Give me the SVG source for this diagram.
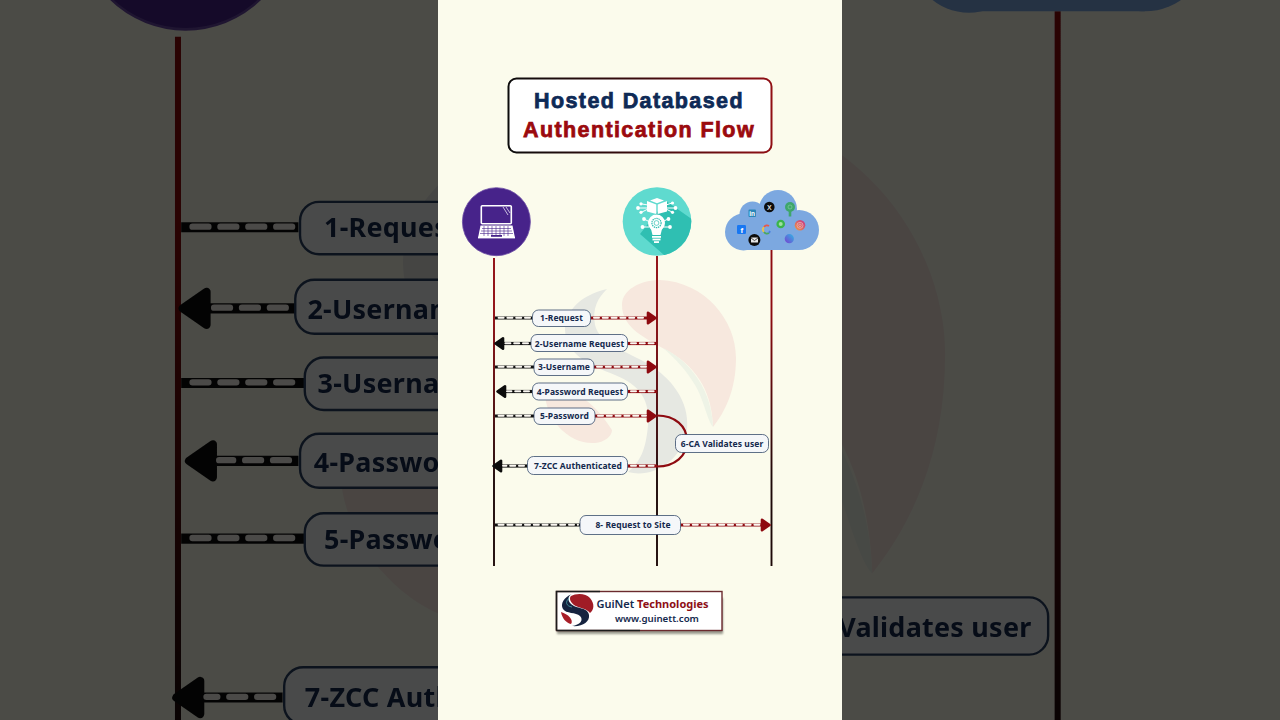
<svg xmlns="http://www.w3.org/2000/svg" width="1280" height="720" viewBox="0 0 1280 720">
<style>
.lb{fill:#f5f7f9;stroke:#2b4263;stroke-width:.75}
.lt{font:700 8.5px "Noto Sans","Liberation Sans",sans-serif;fill:#14294d;text-anchor:middle;letter-spacing:.08px}
.life{fill:none;stroke:url(#lifeGrad);stroke-width:1.9}
.rk{fill:none;stroke:#111;stroke-width:3.2}
.rr{fill:none;stroke:#8e0a10;stroke-width:3.2}
.wd{fill:none;stroke:#fbf8f2;stroke-width:2;stroke-linecap:round;stroke-dasharray:5 3.8}
.tk{marker-end:url(#hk)}
.tr{marker-end:url(#hr)}
.tt{font:700 21.5px "Liberation Sans",Arial,sans-serif;text-anchor:middle;stroke-width:.75;letter-spacing:1.4px}
.w{fill:#fff}
.ws{fill:none;stroke:#fff}
</style>
<defs>
<filter id="soft" x="-5%" y="-5%" width="110%" height="110%"><feGaussianBlur stdDeviation=".5"/></filter>
<filter id="shadow" x="-5%" y="-20%" width="110%" height="150%"><feGaussianBlur stdDeviation="1.3"/></filter>
<linearGradient id="lifeGrad" gradientUnits="userSpaceOnUse" x1="0" y1="258" x2="0" y2="480">
<stop offset="0" stop-color="#8e0a10"/><stop offset=".25" stop-color="#8e0a10"/><stop offset="1" stop-color="#1c0808"/>
</linearGradient>
<linearGradient id="titleGrad" x1="0" y1="0" x2="1" y2="0">
<stop offset="0" stop-color="#0c0c0c"/><stop offset=".5" stop-color="#3a0a0c"/><stop offset="1" stop-color="#900f14"/>
</linearGradient>
<linearGradient id="ballGrad" x1="0" y1="1" x2="1" y2="0">
<stop offset="0" stop-color="#7a3fd0"/><stop offset="1" stop-color="#2fb6e6"/>
</linearGradient>
<linearGradient id="igGrad" x1="0" y1="1" x2="1" y2="0">
<stop offset="0" stop-color="#f09a3e"/><stop offset="1" stop-color="#c2308f"/>
</linearGradient>
<marker id="hk" markerUnits="userSpaceOnUse" markerWidth="16" markerHeight="18" refX="1.5" refY="9" orient="auto" overflow="visible">
<path d="M1.5 3.8 L9 9 L1.5 14.2Z" fill="#0c0c0c" stroke="#0c0c0c" stroke-width="2.6" stroke-linejoin="round"/>
</marker>
<marker id="hr" markerUnits="userSpaceOnUse" markerWidth="16" markerHeight="18" refX="1.5" refY="9" orient="auto" overflow="visible">
<path d="M1.5 3.8 L9 9 L1.5 14.2Z" fill="#8e0a10" stroke="#8e0a10" stroke-width="2.6" stroke-linejoin="round"/>
</marker>
<clipPath id="sides"><rect x="0" y="0" width="438" height="720"/><rect x="842" y="0" width="438" height="720"/></clipPath>
<clipPath id="tealClip"><circle cx="657" cy="221.5" r="34.3"/></clipPath>
<g id="scene">
  <g id="watermark">
    <path d="M622 305 C622 290 640 280 660 280 C705 282 736 320 736 358 C736 390 725 412 713 427 C712 395 700 370 670 352 C645 338 622 328 622 305Z" fill="#f7e8de"/>
    <path d="M663 348 C692 362 712 392 713 427 C707 420 704 400 695 385 C686 370 675 358 663 348Z" fill="#eef3e6"/>
    <path d="M607 289 C580 295 565 312 565 330 C566 355 590 365 615 375 C640 385 650 400 648 425 C646 450 640 462 628 472 C650 478 680 465 687 430 C690 400 670 378 650 365 C625 350 600 345 595 325 C592 308 598 298 607 289Z" fill="#e6e8e2"/>
    <path d="M612 430 C600 412 590 400 570 391 C560 386 550 385 545 392 C545 420 570 445 595 443 C605 442 612 436 612 430Z" fill="#f7e8de"/>
  </g>
  <g id="lifelines">
    <path class="life" d="M494 258V566"/>
    <path class="life" d="M657 256V566"/>
    <path class="life" d="M771.5 250V566"/>
  </g>
  <g id="connectors">
    <path d="M657 415.5C675 415.5 687 426 687 441C687 456 675 466.5 657 466.5" fill="none" stroke="#8e0a10" stroke-width="2.2"/>
    <path class="rk" d="M495 318H532"/><path class="wd" d="M498.6 317.8H531"/>
    <path class="rr tr" d="M591 318H648"/><path class="wd" d="M594 317.8H646"/>
    <path class="rk tk" d="M531 343.5H503"/><path class="wd" d="M528 343.3H505"/>
    <path class="rr" d="M628 343.5H657"/><path class="wd" d="M631 343.3H655"/>
    <path class="rk" d="M495 367H534"/><path class="wd" d="M498.6 366.8H532"/>
    <path class="rr tr" d="M594 367H648"/><path class="wd" d="M597 366.8H646"/>
    <path class="rk tk" d="M532 391.5H505"/><path class="wd" d="M529 391.3H507"/>
    <path class="rr" d="M628 391.5H657"/><path class="wd" d="M631 391.3H655"/>
    <path class="rk" d="M495 416H534"/><path class="wd" d="M498.6 415.8H532"/>
    <path class="rr tr" d="M595 416H648"/><path class="wd" d="M598 415.8H646"/>
    <path class="rk tk" d="M527 466H501"/><path class="wd" d="M524 465.8H503"/>
    <path class="rr" d="M628 466H657"/><path class="wd" d="M631 465.8H655"/>
    <path class="rk" d="M495 525H580"/><path class="wd" d="M498.6 524.8H578"/>
    <path class="rr tr" d="M681 525H762"/><path class="wd" d="M684 524.8H760"/>
  </g>
  <g id="label-1"><rect class="lb" x="532.5" y="310" width="58" height="16.5" rx="6"/><text class="lt" x="561.5" y="321.2">1-Request</text></g>
  <g id="label-2"><rect class="lb" x="531" y="334.5" width="96.5" height="17" rx="6"/><text class="lt" x="579.5" y="346.8">2-Username Request</text></g>
  <g id="label-3"><rect class="lb" x="534" y="359" width="60" height="16.5" rx="6"/><text class="lt" x="564" y="370.2">3-Username</text></g>
  <g id="label-4"><rect class="lb" x="532.5" y="383" width="95" height="17" rx="6"/><text class="lt" x="580" y="395">4-Password Request</text></g>
  <g id="label-5"><rect class="lb" x="534" y="408" width="61" height="16.5" rx="6"/><text class="lt" x="564.5" y="419.3">5-Password</text></g>
  <g id="label-6"><rect class="lb" x="675.5" y="434.5" width="93" height="18" rx="6"/><text class="lt" x="722" y="447">6-CA Validates user</text></g>
  <g id="label-7"><rect class="lb" x="527.5" y="456.5" width="100" height="18" rx="6"/><text class="lt" x="578" y="469">7-ZCC Authenticated</text></g>
  <g id="label-8"><rect class="lb" x="580" y="515.5" width="100.5" height="19" rx="6"/><text class="lt" x="633" y="528.3">8- Request to Site</text></g>
  <g id="node-client">
    <circle cx="496.4" cy="221.7" r="34" fill="#47238a" stroke="#6a4aa3" stroke-width=".8"/>
    <rect x="481.3" y="205.8" width="30" height="18" rx="1" fill="none" stroke="#fff" stroke-width="1.6"/>
    <path d="M503 207L508 215M506 207L510 213" stroke="#fff" stroke-width=".7"/>
    <path class="w" d="M480.5 225.5H512.5L515 238H478Z"/>
    <path d="M482 228.5H511M481 231H512M480 233.5H513M484 226V236M488 226V236M492 226V236M496 226V236M500 226V236M504 226V236M508 226V236" stroke="#47238a" stroke-width=".6"/>
    <rect x="491" y="235" width="11" height="3" fill="#47238a"/>
    <rect x="478" y="236.8" width="37" height="1.6" class="w"/>
  </g>
  <g id="node-server">
    <circle cx="657" cy="221.5" r="34.3" fill="#5fdacf"/>
    <path clip-path="url(#tealClip)" d="M666 201L700 225V262H672L640 234Z" fill="#2fbfb2"/>
    <path class="w" d="M647 201L656.3 204.5V214L647 211.5ZM657.7 204.5L667 201V211.5L657.7 214ZM650 200.5L657 203.2L664 200.5L657 198Z"/>
    <path class="ws" stroke-width="1" d="M638 208H648M642 204L648 205M642 212L648 209M666 208H675M666 205L672 203M666 209L672 212M644 219L650 222M643 227H649M668 219L662 222M669 227H663"/>
    <g class="w"><circle cx="638" cy="208" r="1.9"/><circle cx="641" cy="203.8" r="1.6"/><circle cx="641" cy="212.3" r="1.6"/><circle cx="675.5" cy="208" r="1.9"/><circle cx="672.5" cy="203" r="1.6"/><circle cx="672.5" cy="212.3" r="1.6"/><circle cx="644" cy="219" r="1.9"/><circle cx="642.5" cy="227" r="1.9"/><circle cx="668.5" cy="219" r="1.9"/><circle cx="670" cy="227" r="1.9"/></g>
    <circle cx="656.5" cy="223" r="8.5" class="w"/>
    <path class="w" d="M651 229H662L660.5 235H652.5Z"/>
    <rect x="652" y="236" width="9" height="1.8" class="w"/><rect x="652.5" y="238.6" width="8" height="1.8" class="w"/><rect x="654" y="241.2" width="5" height="1.8" class="w"/>
    <circle cx="656.5" cy="223" r="4.6" fill="none" stroke="#2fbfb2" stroke-width="1.2" stroke-dasharray="1.4 .7"/>
    <circle cx="656.5" cy="223" r="2.4" fill="none" stroke="#2fbfb2" stroke-width=".7"/>
  </g>
  <g id="node-cloud">
    <g fill="#7ca8e0">
      <circle cx="743.5" cy="232" r="18.5"/><circle cx="752.5" cy="214.5" r="13"/><circle cx="778" cy="209" r="19"/><circle cx="799" cy="230" r="20"/>
      <rect x="745" y="212" width="54" height="38"/>
    </g>
    <rect x="748.5" y="209.5" width="7.5" height="7.5" rx="1" fill="#2a86b8"/>
    <text x="752.2" y="215.6" font-family="Liberation Sans,sans-serif" font-weight="700" font-size="6.5" fill="#fff" text-anchor="middle">in</text>
    <circle cx="769.3" cy="207" r="5.3" fill="#0d0d0d"/>
    <text x="769.3" y="209.6" font-family="Liberation Sans,sans-serif" font-weight="700" font-size="7" fill="#ddd" text-anchor="middle">X</text>
    <circle cx="790" cy="207" r="5" fill="#3fa66b"/><path d="M790 210V216.5" stroke="#3fa66b" stroke-width="2.6"/>
    <circle cx="790" cy="207" r="2" fill="none" stroke="#8fd4a8" stroke-width=".6"/>
    <rect x="737" y="225" width="9" height="9" rx="1.3" fill="#1877f2"/>
    <text x="741.8" y="232.8" font-family="Liberation Sans,sans-serif" font-weight="700" font-size="8" fill="#fff" text-anchor="middle">f</text>
    <g fill="none" stroke-width="1.8">
      <path d="M769 226A3.6 3.6 0 0 0 764 227" stroke="#e8574a"/><path d="M764 227A3.6 3.6 0 0 0 764 232" stroke="#e9c34a"/><path d="M764 232A3.6 3.6 0 0 0 769 233" stroke="#4aa860"/><path d="M769 233L770 231" stroke="#4a80e0"/>
    </g>
    <circle cx="780.7" cy="224" r="4.3" fill="#3bb54a"/><circle cx="780.7" cy="224" r="2" fill="#9fe0a0"/>
    <circle cx="800" cy="225.3" r="5.3" fill="url(#igGrad)"/><circle cx="800" cy="225.3" r="3" fill="none" stroke="#f6c3c8" stroke-width=".6"/><circle cx="800" cy="225.3" r="1.3" fill="none" stroke="#f6c3c8" stroke-width=".6"/>
    <circle cx="754.4" cy="240" r="6" fill="#0d0d0d"/>
    <rect x="751" y="237.5" width="7" height="5" rx=".6" fill="#e8e8e8"/><path d="M751 238L754.5 240.6L758 238" fill="none" stroke="#0d0d0d" stroke-width=".7"/>
    <circle cx="789.3" cy="238.7" r="4.6" fill="url(#ballGrad)"/>
  </g>
</g>
</defs>
<rect id="side-bg" width="1280" height="720" fill="#fbfbec"/>
<g id="side-clip" clip-path="url(#sides)">
  <g id="side-copies" filter="url(#soft)"><use href="#scene" transform="matrix(3.17 0 0 3.177 -1388 -783)"/></g>
</g>
<rect id="side-dim" width="1280" height="720" fill="#000" opacity=".7"/>
<rect id="panel" x="438" y="0" width="404" height="720" fill="#fbfbec"/>
<use href="#scene"/>
<g id="title">
  <rect x="508.5" y="78.5" width="263" height="74" rx="8" fill="#fff" stroke="url(#titleGrad)" stroke-width="2"/>
  <text class="tt" x="639" y="107.8" fill="#0e2a56" stroke="#0e2a56">Hosted Databased</text>
  <text class="tt" x="639" y="137.3" fill="#9b0a0e" stroke="#9b0a0e">Authentication Flow</text>
</g>
<g id="logo">
  <rect x="557" y="598" width="166" height="36" fill="#6f6f66" opacity=".7" filter="url(#shadow)"/>
  <rect x="556.5" y="591.5" width="165.5" height="39" fill="#fff" stroke="#6b2a2e" stroke-width="1.4"/>
  <path d="M556.5 630.5V591.5H600M556.5 630.5H640" fill="none" stroke="#1c1c1c" stroke-width="1.6"/>
  <path d="M571 596C576 593 586 593 590 598C595 604 594 610 590 613C586 608 578 608 574 605C570 602 569 598 571 596Z" fill="#a01c26"/>
  <path d="M572 594C564 597 560 604 563 609C566 614 576 612 580 616C584 620 580 625 572 626C582 627 590 622 589 615C588 607 576 609 571 604C567 600 568 596 572 594Z" fill="#16233f"/>
  <path d="M569 598C565 602 566 606 572 607" fill="none" stroke="#4fb3b8" stroke-width=".7"/>
  <path d="M561 612C562 618 566 623 571 624C574 620 568 614 561 612Z" fill="#a81e28"/>
  <text x="596.5" y="608" font-family="Noto Sans,Liberation Sans,sans-serif" font-weight="600" font-size="11"><tspan fill="#14294d">GuiNet </tspan><tspan fill="#8e0f16" font-weight="700">Technologies</tspan></text>
  <text x="615" y="622.3" font-family="Noto Sans,Liberation Sans,sans-serif" font-weight="600" font-size="9.7" fill="#14294d">www.guinett.com</text>
</g>
</svg>
